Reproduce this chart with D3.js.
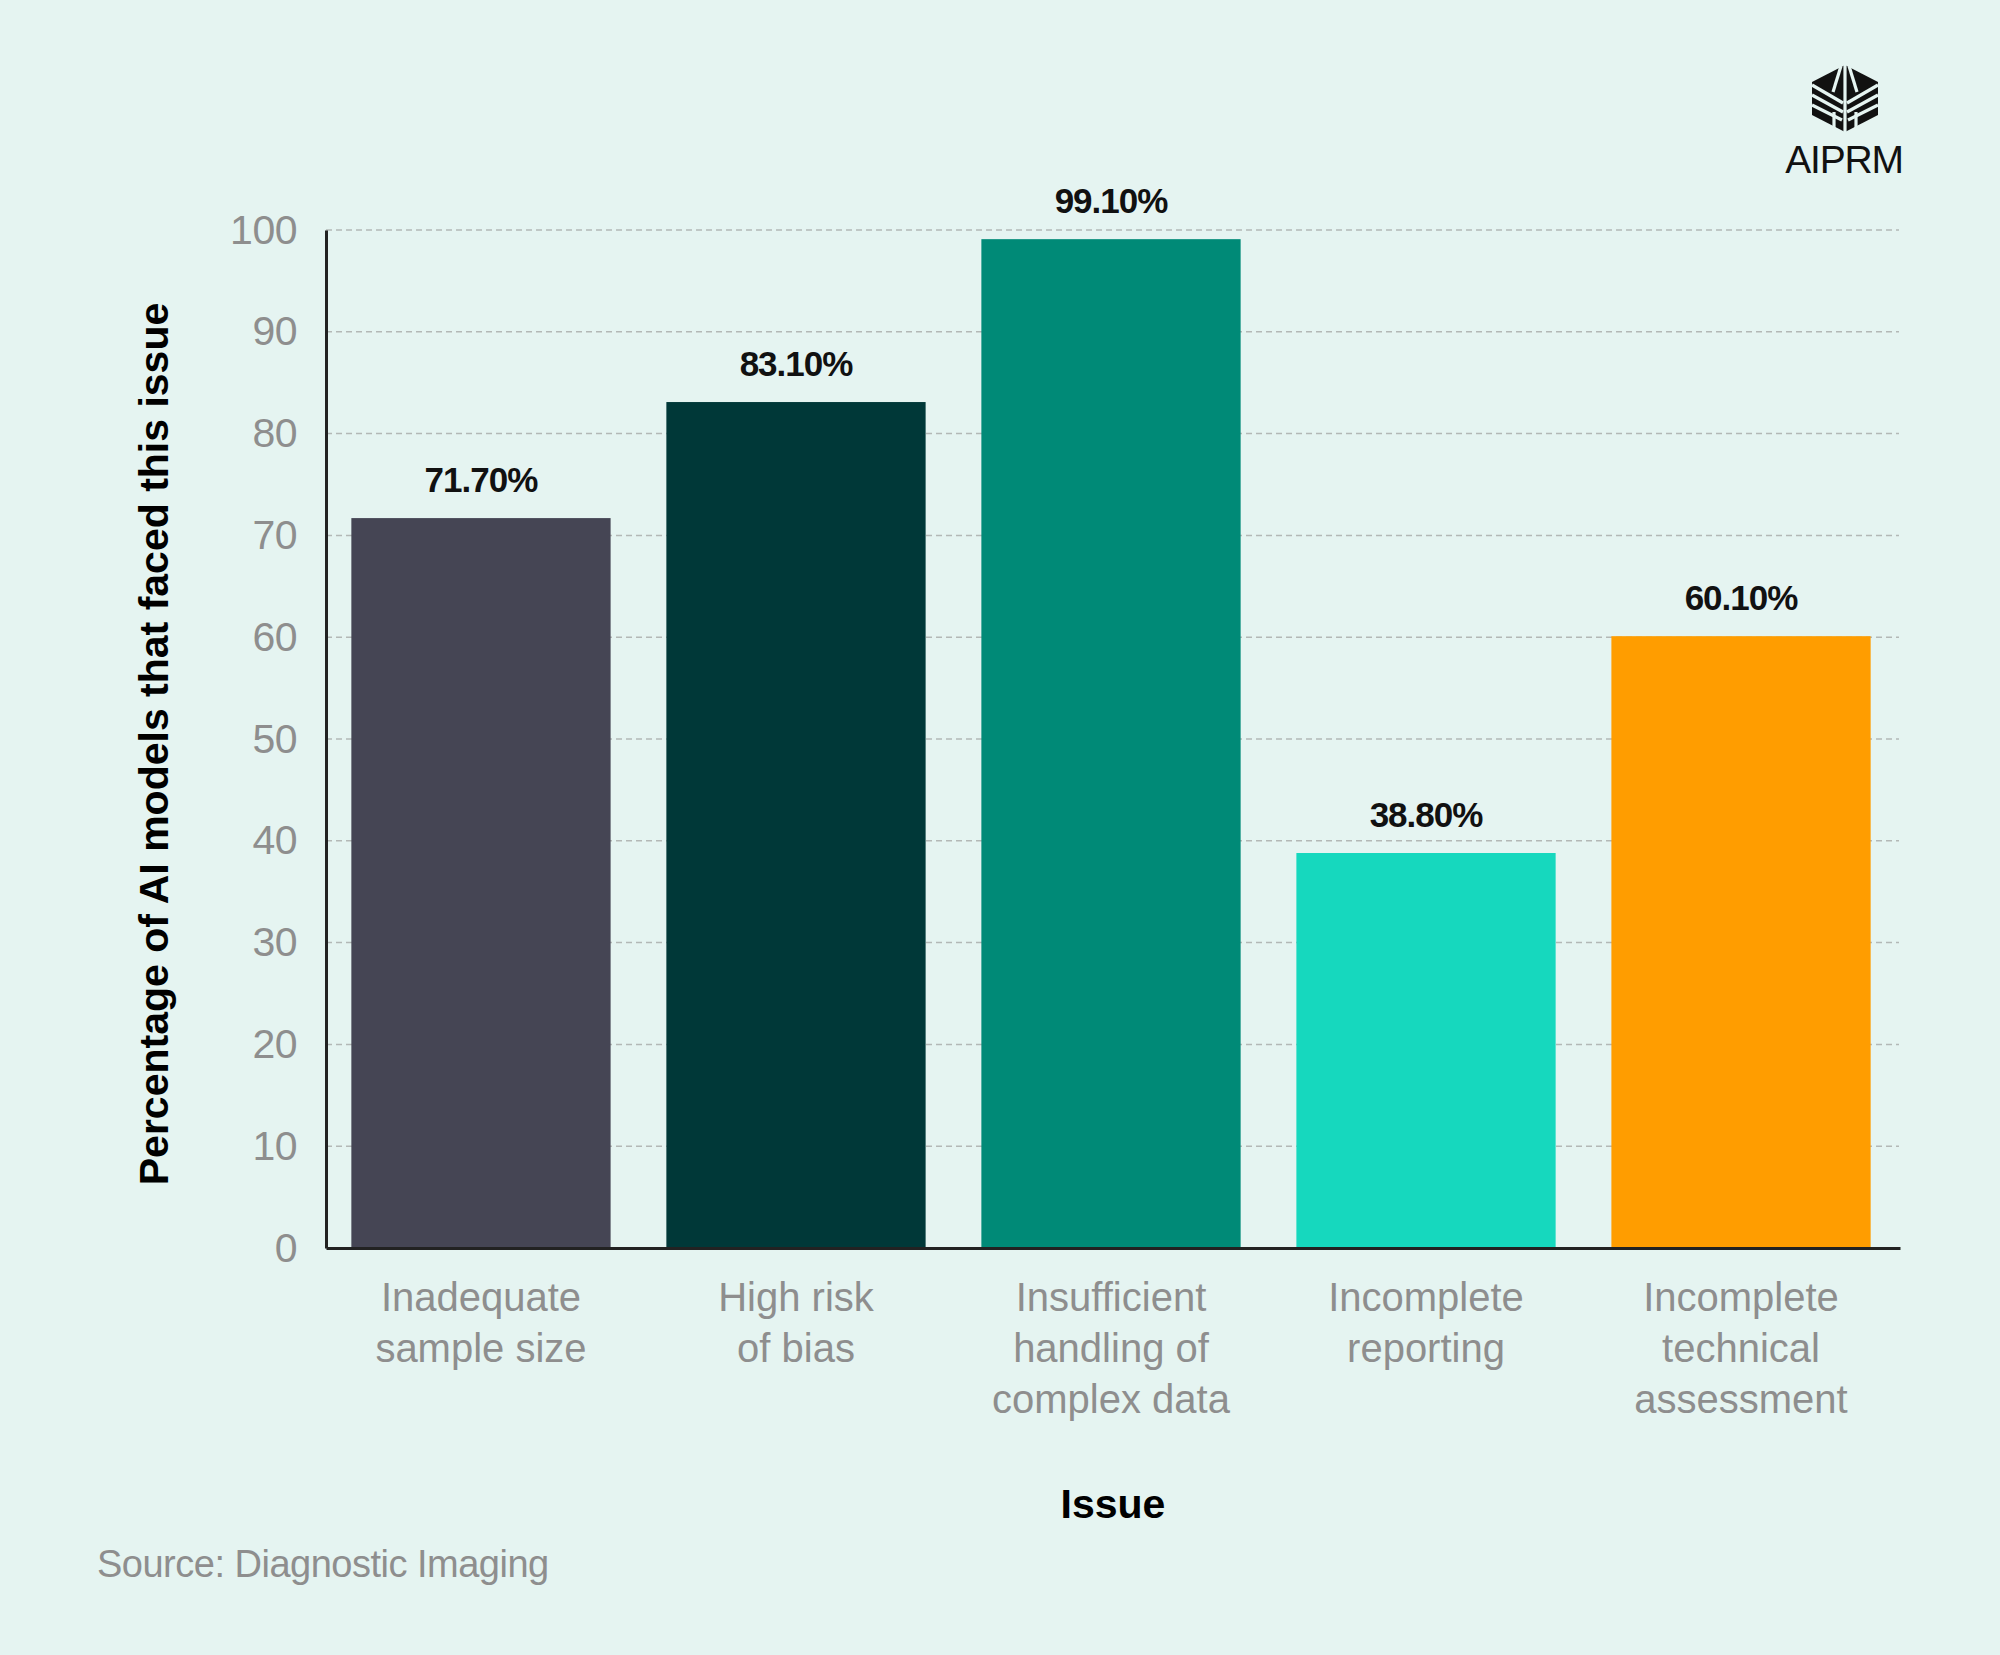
<!DOCTYPE html>
<html>
<head>
<meta charset="utf-8">
<script src="https://cdn.jsdelivr.net/npm/d3@7"></script>
<style>
  html, body { margin: 0; padding: 0; background: #e5f4f1; }
  svg { display: block; }
</style>
</head>
<body>
<svg id="chart" width="2000" height="1655"></svg>
<script>
// ---- data ----
const categories = ["Inadequate sample size", "High risk of bias", "Insufficient handling of complex data", "Incomplete reporting", "Incomplete technical assessment"];
const categoryLines = [
  ["Inadequate", "sample size"],
  ["High risk", "of bias"],
  ["Insufficient", "handling of", "complex data"],
  ["Incomplete", "reporting"],
  ["Incomplete", "technical", "assessment"]
];
const values = [71.7, 83.1, 99.1, 38.8, 60.1];
const valueLabels = ["71.70%", "83.10%", "99.10%", "38.80%", "60.10%"];
const barColors = ["#454554", "#003838", "#008a77", "#16d8be", "#ff9d00"];
const yTicks = [0, 10, 20, 30, 40, 50, 60, 70, 80, 90, 100];
const yTitle = "Percentage of AI models that faced this issue";
const xTitle = "Issue";
const sourceText = "Source: Diagnostic Imaging";
const brand = "AIPRM";

(function () {
// ---- layout ----
const svg = d3.select("#chart");
const W = 2000, H = 1655;
const mLeft = 326, mRight = 1900, mTop = 230, mBottom = 1248;
const FONT = "'Liberation Sans', Arial, Helvetica, sans-serif";

svg.append("rect").attr("width", W).attr("height", H).attr("fill", "#e5f4f1");

const x = d3.scaleBand().domain(categories).range([mLeft - 3, mRight - 1]).paddingInner(0.177).paddingOuter(0.09);
const y = d3.scaleLinear().domain([0, 100]).range([mBottom, mTop]);

// gridlines
svg.append("g").selectAll("line").data(yTicks.filter(t => t > 0)).join("line")
  .attr("x1", mLeft).attr("x2", mRight - 1)
  .attr("y1", d => y(d)).attr("y2", d => y(d))
  .attr("stroke", "#b3b8b6").attr("stroke-width", 1.5).attr("stroke-dasharray", "6,4");

// bars
svg.append("g").selectAll("rect").data(categories).join("rect")
  .attr("x", d => x(d)).attr("width", x.bandwidth())
  .attr("y", (d, i) => y(values[i])).attr("height", (d, i) => y(0) - y(values[i]))
  .attr("fill", (d, i) => barColors[i]);

// value labels
svg.append("g").selectAll("text").data(categories).join("text")
  .attr("x", d => x(d) + x.bandwidth() / 2)
  .attr("y", (d, i) => y(values[i]) - 26)
  .attr("text-anchor", "middle")
  .attr("font-family", FONT).attr("font-weight", "bold").attr("font-size", 35)
  .attr("letter-spacing", "-1px")
  .attr("fill", "#111")
  .text((d, i) => valueLabels[i]);

// y axis
const yAxis = svg.append("g").attr("transform", `translate(${mLeft},0)`)
  .call(d3.axisLeft(y).tickValues(yTicks).tickSize(0).tickSizeOuter(0).tickPadding(29).tickFormat(d3.format("d")));
yAxis.select(".domain").attr("stroke", "#222").attr("stroke-width", 3);
yAxis.selectAll("text").attr("font-family", FONT).attr("font-size", 41)
  .attr("fill", "#8e8e8e").attr("letter-spacing", "-0.5px");

// x axis
const xAxis = svg.append("g").attr("transform", `translate(0,${mBottom})`)
  .call(d3.axisBottom(x.copy().range([mLeft, mRight])).tickSize(0).tickSizeOuter(0).tickFormat(""));
xAxis.select(".domain").attr("stroke", "#222").attr("stroke-width", 3);
xAxis.selectAll(".tick text").remove();

// category labels
const catG = svg.append("g");
categories.forEach((c, i) => {
  const cx = x(c) + x.bandwidth() / 2;
  const t = catG.append("text")
    .attr("x", cx).attr("y", mBottom + 63)
    .attr("text-anchor", "middle")
    .attr("font-family", FONT).attr("font-size", 40).attr("fill", "#8e8e8e");
  categoryLines[i].forEach((line, j) => {
    t.append("tspan").attr("x", cx).attr("dy", j === 0 ? 0 : 51).text(line);
  });
});

// axis titles
svg.append("text")
  .attr("transform", `translate(168,${(mTop + mBottom) / 2 + 5}) rotate(-90)`)
  .attr("text-anchor", "middle")
  .attr("font-family", FONT).attr("font-weight", "bold").attr("font-size", 41)
  .attr("fill", "#000")
  .text(yTitle);

svg.append("text")
  .attr("x", (mLeft + mRight) / 2).attr("y", 1518)
  .attr("text-anchor", "middle")
  .attr("font-family", FONT).attr("font-weight", "bold").attr("font-size", 41)
  .attr("fill", "#000")
  .text(xTitle);

// source
svg.append("text")
  .attr("x", 97).attr("y", 1577)
  .attr("font-family", FONT).attr("font-size", 38).attr("fill", "#8e8e8e")
  .attr("letter-spacing", "-0.5px")
  .text(sourceText);

// logo
const logo = svg.append("g").attr("transform", "translate(1812,65)");
logo.append("path")
  .attr("d", "M33,0 L66,17 L66,50 L33,67 L0,50 L0,17 Z")
  .attr("fill", "#111");
const gaps = [
  [[33, 0], [33, 67]],
  [[29, 1], [21, 27]],
  [[37, 1], [45, 27]],
  [[0, 20], [31, 38]],
  [[0, 30], [31, 47]],
  [[66, 20], [35, 38]],
  [[66, 30], [35, 47]],
  [[0, 40], [30, 55]],
  [[66, 40], [36, 55]],
  [[22, 47], [22, 67]],
  [[44, 47], [44, 67]]
];
logo.selectAll("line").data(gaps).join("line")
  .attr("x1", d => d[0][0]).attr("y1", d => d[0][1])
  .attr("x2", d => d[1][0]).attr("y2", d => d[1][1])
  .attr("stroke", "#e5f4f1").attr("stroke-width", 3.2);

svg.append("text")
  .attr("x", 1844).attr("y", 173)
  .attr("text-anchor", "middle")
  .attr("font-family", FONT).attr("font-size", 39).attr("fill", "#111")
  .attr("letter-spacing", "-1.2px")
  .text(brand);
})();
</script>
</body>
</html>
